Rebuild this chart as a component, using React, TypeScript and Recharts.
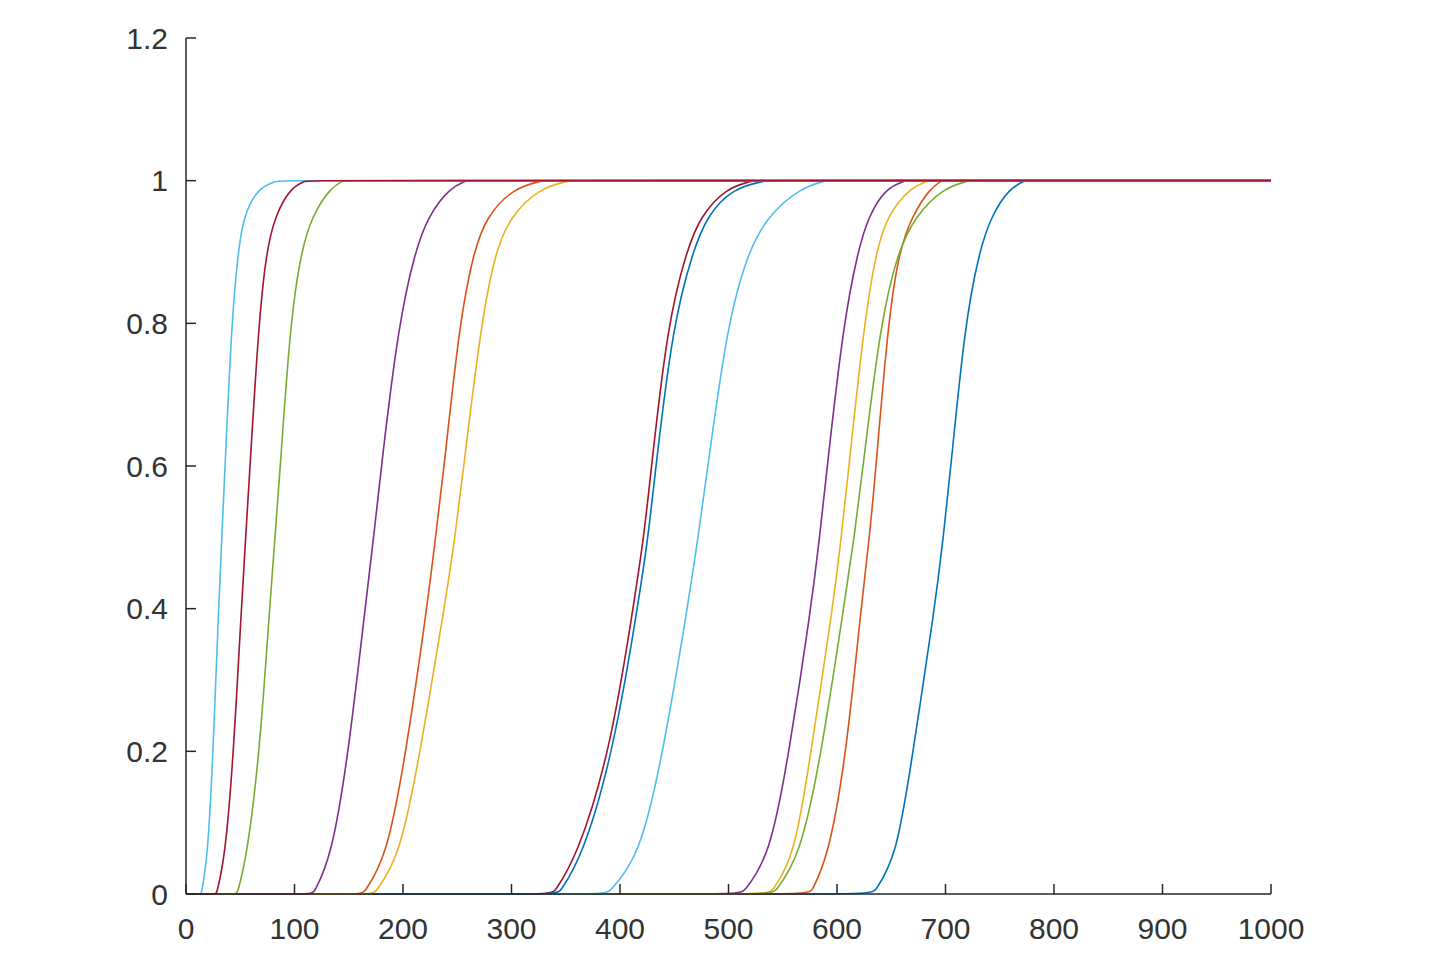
import { LineChart, Line, XAxis, YAxis } from "recharts";

const levels = [0, 0.05, 0.2, 0.4, 0.5, 0.6, 0.8, 0.9, 0.95, 0.99, 1];

// x where each curve crosses the levels above (first point = where it leaves 0, last = where it hits 1)
const blue2 = [633, 655, 670, 690, 698, 705, 718, 731, 742, 759, 774];
const orange2 = [575, 592, 609, 622, 630, 636, 647, 657, 669, 686, 697];
const yellow2 = [538, 561, 576, 596, 604, 611, 625, 636, 646, 667, 685];
const purple2 = [512, 538, 556, 576, 584, 591, 606, 619, 629, 645, 664];
const green2 = [541, 566, 586, 606, 616, 624, 640, 656, 672, 698, 722];
const cyan2 = [388, 418, 440, 462, 472, 481, 499, 518, 536, 566, 590];
const red2 = [338, 360, 391, 412, 422, 429, 444, 461, 474, 498, 523];
const blue1 = [343, 365, 394, 416, 426, 433, 449, 467, 480, 504, 535];
const orange1 = [163, 185, 203, 222, 230, 238, 252, 265, 277, 302, 329];
const yellow1 = [173, 197, 216, 238, 248, 256, 272, 285, 299, 326, 354];
const purple1 = [117, 134, 150, 165, 173, 180, 196, 211, 223, 243, 259];
const green1 = [47, 56, 68, 77, 82, 87, 96, 106, 116, 133, 145];
const cyan1 = [14, 20, 25, 30, 33, 36, 42, 48, 53, 66, 85];
const red1 = [28, 36, 44, 51, 55, 59, 67, 74, 82, 96, 111];

const xTicks = [0, 100, 200, 300, 400, 500, 600, 700, 800, 900, 1000];
const yTicks = [0, 0.2, 0.4, 0.6, 0.8, 1, 1.2];

const BLUE = "#0072BD";
const ORANGE = "#D95319";
const YELLOW = "#EDB120";
const PURPLE = "#7E2F8E";
const GREEN = "#77AC30";
const CYAN = "#4DBEEE";
const RED = "#A2142F";

// plot order follows MATLAB's colour cycle, so the last one (dark red) sits on top
const series = [
  { name: "c1", xs: blue2, color: BLUE },
  { name: "c2", xs: orange2, color: ORANGE },
  { name: "c3", xs: yellow2, color: YELLOW },
  { name: "c4", xs: purple2, color: PURPLE },
  { name: "c5", xs: green2, color: GREEN },
  { name: "c6", xs: cyan2, color: CYAN },
  { name: "c7", xs: red2, color: RED },
  { name: "c8", xs: blue1, color: BLUE },
  { name: "c9", xs: orange1, color: ORANGE },
  { name: "c10", xs: yellow1, color: YELLOW },
  { name: "c11", xs: purple1, color: PURPLE },
  { name: "c12", xs: green1, color: GREEN },
  { name: "c13", xs: cyan1, color: CYAN },
  { name: "c14", xs: red1, color: RED },
];

// the foot and shoulder points are doubled so the basis spline keeps the flat parts flat
function toPoints(xs: number[]) {
  const pts = xs.map((x, i) => ({ x, y: levels[i] }));
  const first = pts[0];
  const last = pts[pts.length - 1];
  return [{ x: 0, y: 0 }, first, ...pts, last, { x: 1000, y: 1 }];
}

const AXIS = "#262626";
const tickStyle = { fill: "#333", fontSize: 30, fontFamily: "Liberation Sans, Arial, sans-serif" };

export default function App() {
  return (
    <div style={{ position: "absolute", left: 0, top: 0, background: "#fff" }}>
      <LineChart width={1432} height={962} margin={{ top: 38, right: 161, bottom: 8, left: 106 }}>
        <XAxis
          type="number"
          dataKey="x"
          domain={[0, 1000]}
          ticks={xTicks}
          interval={0}
          height={60}
          tick={tickStyle}
          tickSize={-10}
          tickMargin={34}
          stroke={AXIS}
          strokeWidth={1.5}
          allowDuplicatedCategory={false}
        />
        <YAxis
          type="number"
          domain={[0, 1.2]}
          ticks={yTicks}
          interval={0}
          width={80}
          tick={tickStyle}
          tickSize={-10}
          tickMargin={28}
          stroke={AXIS}
          strokeWidth={1.5}
        />
        {series.map((s) => (
          <Line
            key={s.name}
            data={toPoints(s.xs)}
            dataKey="y"
            type="basis"
            stroke={s.color}
            strokeWidth={1.6}
            dot={false}
            activeDot={false}
            isAnimationActive={false}
          />
        ))}
      </LineChart>
    </div>
  );
}
